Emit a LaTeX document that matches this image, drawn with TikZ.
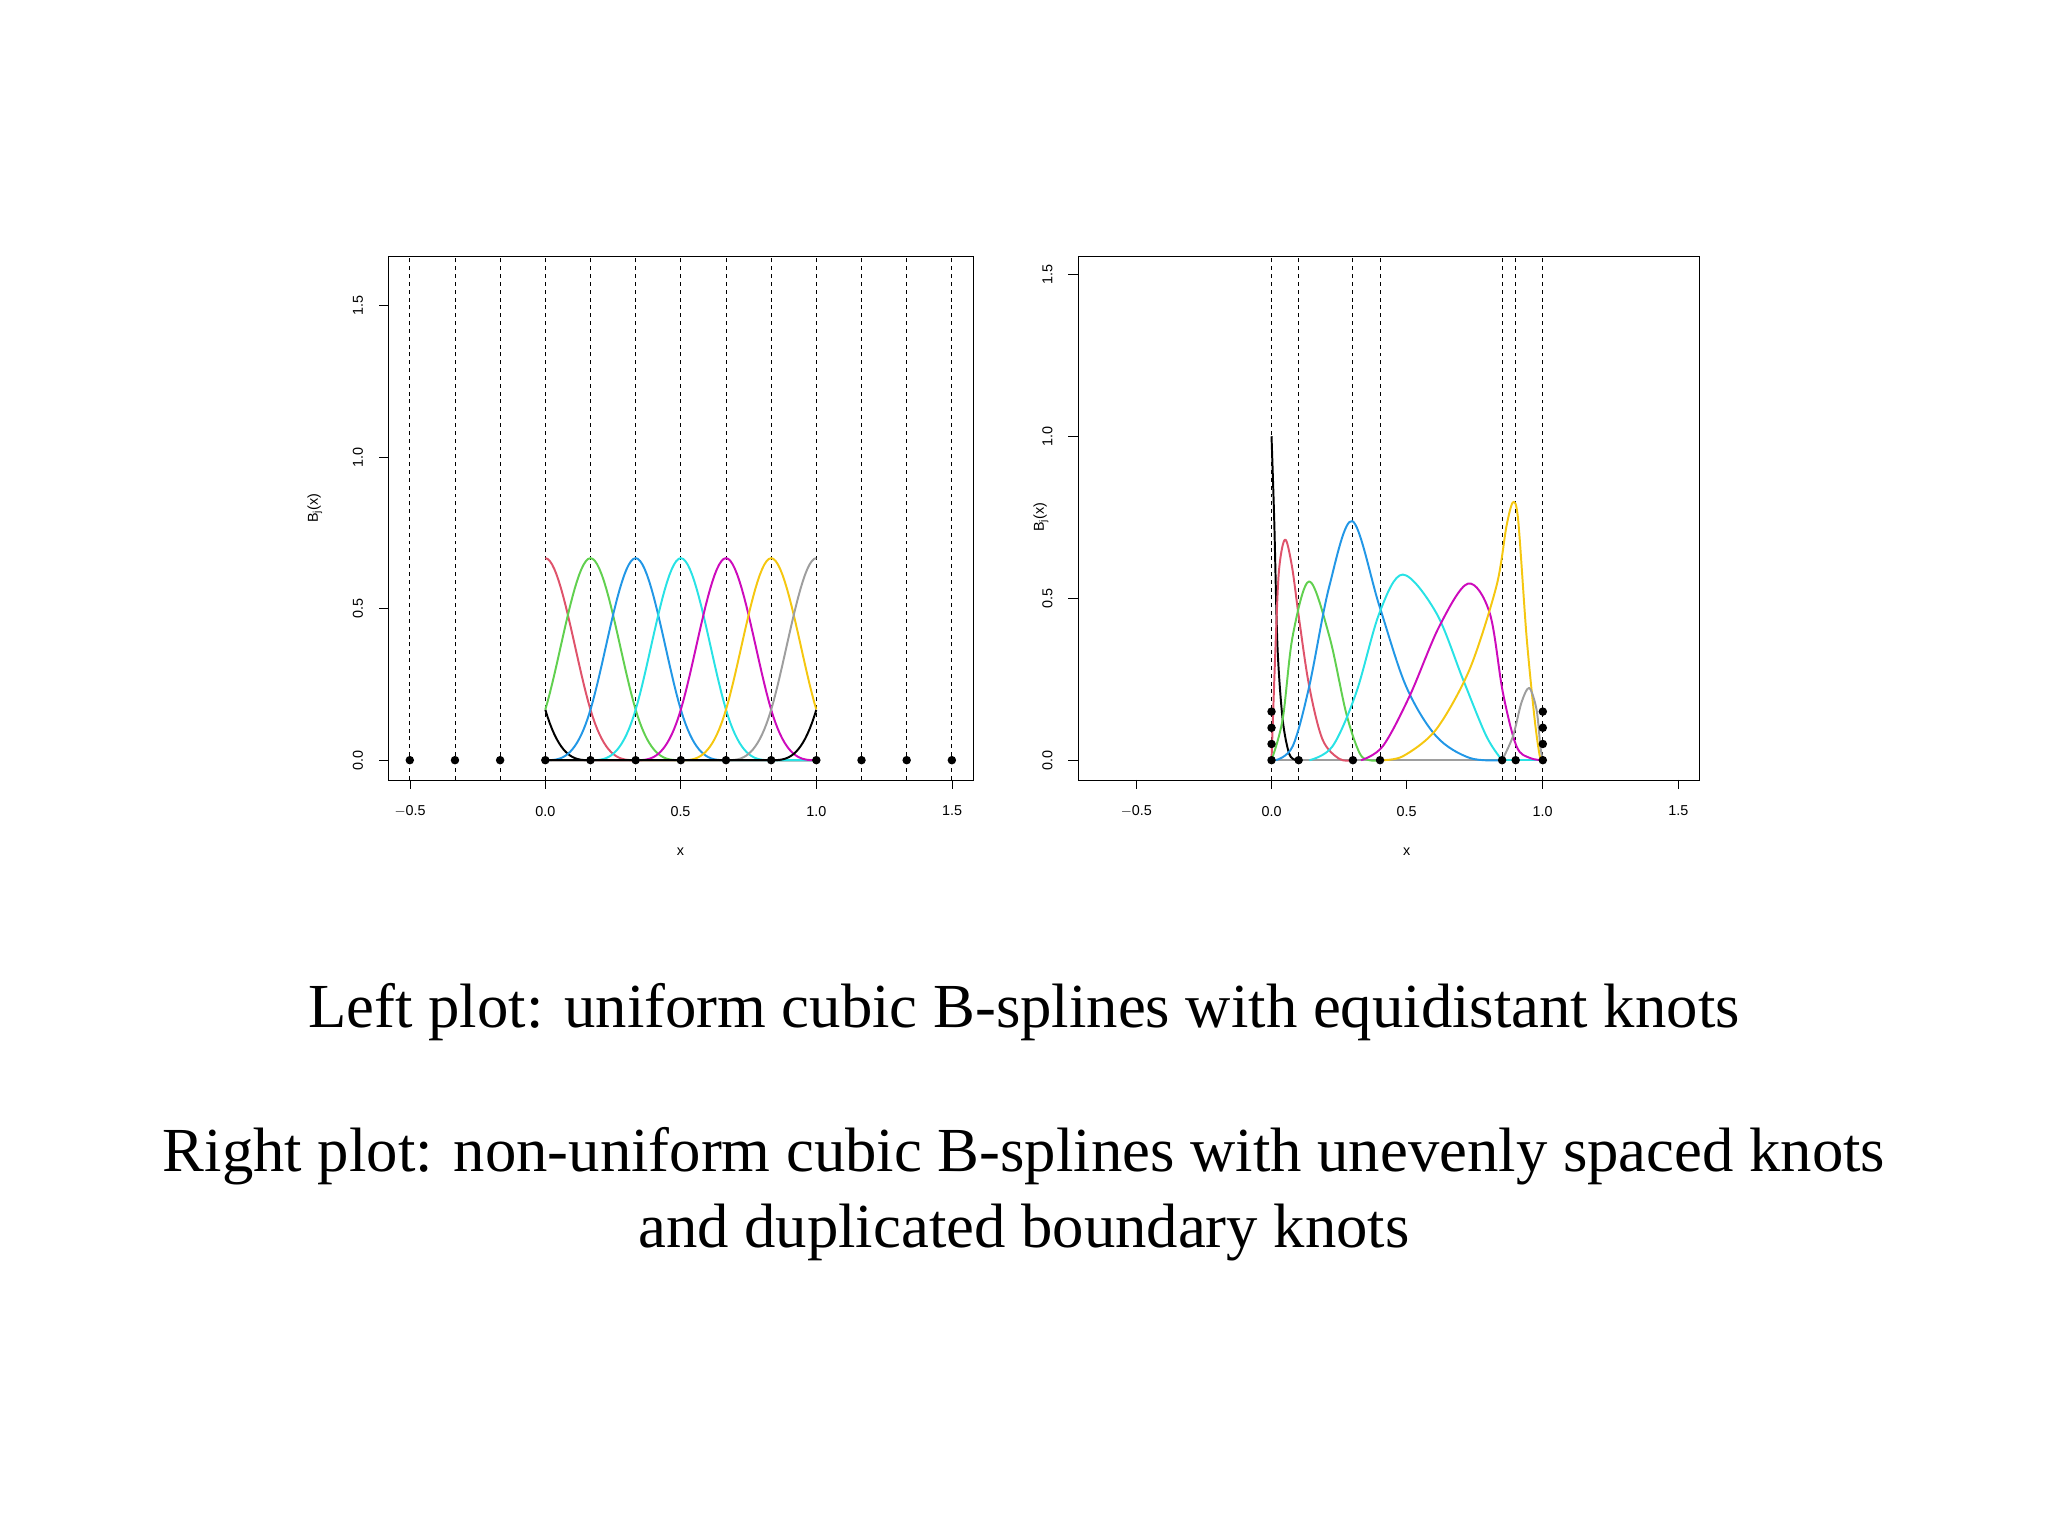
\documentclass[tikz,border=0pt]{standalone}
\usepackage{fontspec}
\setmainfont{Liberation Serif}
\setsansfont{Liberation Sans}
\definecolor{rblack}{HTML}{000000}
\definecolor{rred}{HTML}{DF536B}
\definecolor{rgreen}{HTML}{61D04F}
\definecolor{rblue}{HTML}{2297E6}
\definecolor{rcyan}{HTML}{28E2E5}
\definecolor{rmag}{HTML}{CD0BBC}
\definecolor{ryel}{HTML}{F5C710}
\definecolor{rgray}{HTML}{9E9E9E}
\tikzset{
  frame/.style={draw=black, line width=0.8pt},
  knotline/.style={black, line width=0.7pt, dash pattern=on 3pt off 3pt},
  curve/.style={line width=1.5pt, line join=round},
  tick/.style={line width=0.8pt},
  ticklab/.style={font=\sffamily\fontsize{11}{13}\selectfont, inner sep=0pt},
  knotdot/.style={fill=black, circle, inner sep=0pt, minimum size=6.5pt},
  caption/.style={font=\fontsize{48}{58}\selectfont, align=center, inner sep=0pt}
}
\begin{document}
\begin{tikzpicture}[x=1pt,y=-1pt,
  declare function={bsu(\t)=ifthenelse(\t<1, 2/3-\t*\t+\t*\t*\t/2, ifthenelse(\t<2, (2-\t)^3/6, 0));}]
\useasboundingbox (0,0) rectangle (1568,1176);
% ---------------- Left plot ----------------
\node[frame, minimum width=448pt, minimum height=401pt, anchor=north west, inner sep=0pt] (Lbox) at (297,196) {};
\begin{scope}[shift={(417.5,582)}, x=207.5pt, y=232pt]
  \foreach \k in {-3,...,9} {
    \draw[knotline] ({\k/6},-0.064) -- ({\k/6},1.664);
  }
  \foreach \c/\col in {-1/rblack,0/rred,1/rgreen,2/rblue,3/rcyan,4/rmag,5/ryel,6/rgray,7/rblack} {
    \draw[curve, \col] plot[domain=0:1, samples=121, variable=\x] (\x, {bsu(abs(\x-\c/6)*6)});
  }
  \foreach \k in {-3,...,9} {
    \node[knotdot] (lk\k) at ({\k/6},0) {};
  }
\end{scope}
% left axes
\foreach \v/\p in {{$-$0.5}/314,0.0/417.5,0.5/521,1.0/625,1.5/729} {
  \draw[tick] (\p,597) -- (\p,604);
  \node[ticklab] (lx\p) at (\p,621) {\v};
}
\foreach \v/\p in {0.0/582,0.5/466,1.0/350,1.5/234} {
  \draw[tick] (297,\p) -- (290,\p);
  \node[ticklab, rotate=90] (ly\p) at (274,\p) {\v};
}
\node[ticklab, rotate=90] (Lylab) at (241,389) {B\textsubscript{j}(x)};
\node[ticklab] (Lxlab) at (521,652) {x};
% ---------------- Right plot ----------------
\node[frame, minimum width=476pt, minimum height=401pt, anchor=north west, inner sep=0pt] (Rbox) at (825,196) {};
\begin{scope}[shift={(973.5,582)}, x=207.7pt, y=248pt]
  \foreach \k in {0,0.1,0.3,0.4,0.85,0.9,1} {
    \draw[knotline] (\k,-0.06) -- (\k,1.557);
  }
  \draw[curve, rgray] (0,0) -- (1,0);
  \draw[curve, rcyan] (0.85,0) -- (1,0);
  \draw[curve, rblack] plot[smooth, tension=0.5] coordinates {(0,1) (0.01,0.74) (0.022,0.35) (0.041,0.126) (0.065,0.02) (0.09,0) (0.1,0)};
  \draw[curve, rred] plot[smooth, tension=0.55] coordinates {(0,0) (0.016,0.38) (0.028,0.59) (0.05,0.681) (0.075,0.6) (0.102,0.434) (0.139,0.228) (0.188,0.064) (0.25,0.004) (0.3,0)};
  \draw[curve, rgreen] plot[smooth, tension=0.55] coordinates {(0,0) (0.041,0.126) (0.078,0.383) (0.139,0.552) (0.213,0.383) (0.275,0.146) (0.324,0.023) (0.36,0) (0.4,0)};
  \draw[curve, rblue] plot[smooth, tension=0.55] coordinates {(0.015,0) (0.078,0.043) (0.139,0.228) (0.213,0.537) (0.298,0.738) (0.398,0.475) (0.496,0.228) (0.607,0.074) (0.73,0.007) (0.85,0)};
  \draw[curve, rcyan] plot[smooth, tension=0.55] coordinates {(0.14,0) (0.225,0.043) (0.312,0.208) (0.398,0.455) (0.484,0.573) (0.607,0.455) (0.706,0.249) (0.792,0.074) (0.85,0)};
  \draw[curve, rmag] plot[smooth, tension=0.55] coordinates {(0.33,0) (0.41,0.043) (0.509,0.198) (0.619,0.414) (0.724,0.545) (0.804,0.455) (0.853,0.208) (0.903,0.043) (0.952,0.007) (1,0)};
  \draw[curve, ryel] plot[smooth, tension=0.5] coordinates {(0.4,0) (0.484,0.012) (0.607,0.095) (0.73,0.28) (0.829,0.537) (0.866,0.722) (0.89,0.796) (0.909,0.743) (0.94,0.383) (0.97,0.126) (0.989,0.012) (1,0)};
  \draw[curve, rgray] plot[smooth, tension=0.5] coordinates {(0.85,0) (0.89,0.074) (0.921,0.177) (0.95,0.223) (0.977,0.156) (0.991,0.043) (1,0)};
  \foreach \k/\n in {0/a,0.1/b,0.3/c,0.4/d,0.85/e,0.9/f,1/g} {
    \node[knotdot] (rk\n) at (\k,0) {};
  }
  \foreach \yy/\n in {0.05/1,0.1/2,0.15/3} {
    \node[knotdot] (rl\n) at (0,\yy) {};
    \node[knotdot] (rr\n) at (1,\yy) {};
  }
\end{scope}
\foreach \v/\p in {{$-$0.5}/870,0.0/973.5,0.5/1077,1.0/1181,1.5/1285} {
  \draw[tick] (\p,597) -- (\p,604);
  \node[ticklab] (rx\p) at (\p,621) {\v};
}
\foreach \v/\p in {0.0/582,0.5/458,1.0/334,1.5/210} {
  \draw[tick] (825,\p) -- (818,\p);
  \node[ticklab, rotate=90] (ry\p) at (802,\p) {\v};
}
\node[ticklab, rotate=90] (Rylab) at (797,396) {B\textsubscript{j}(x)};
\node[ticklab] (Rxlab) at (1077,652) {x};
% ---------------- Captions ----------------
\node[caption] (cap1) at (784,775) {Left plot: uniform cubic B-splines with equidistant knots};
\node[caption] (cap2) at (784,914) {Right plot: non-uniform cubic B-splines with unevenly spaced knots\\and duplicated boundary knots};
\end{tikzpicture}
\end{document}
